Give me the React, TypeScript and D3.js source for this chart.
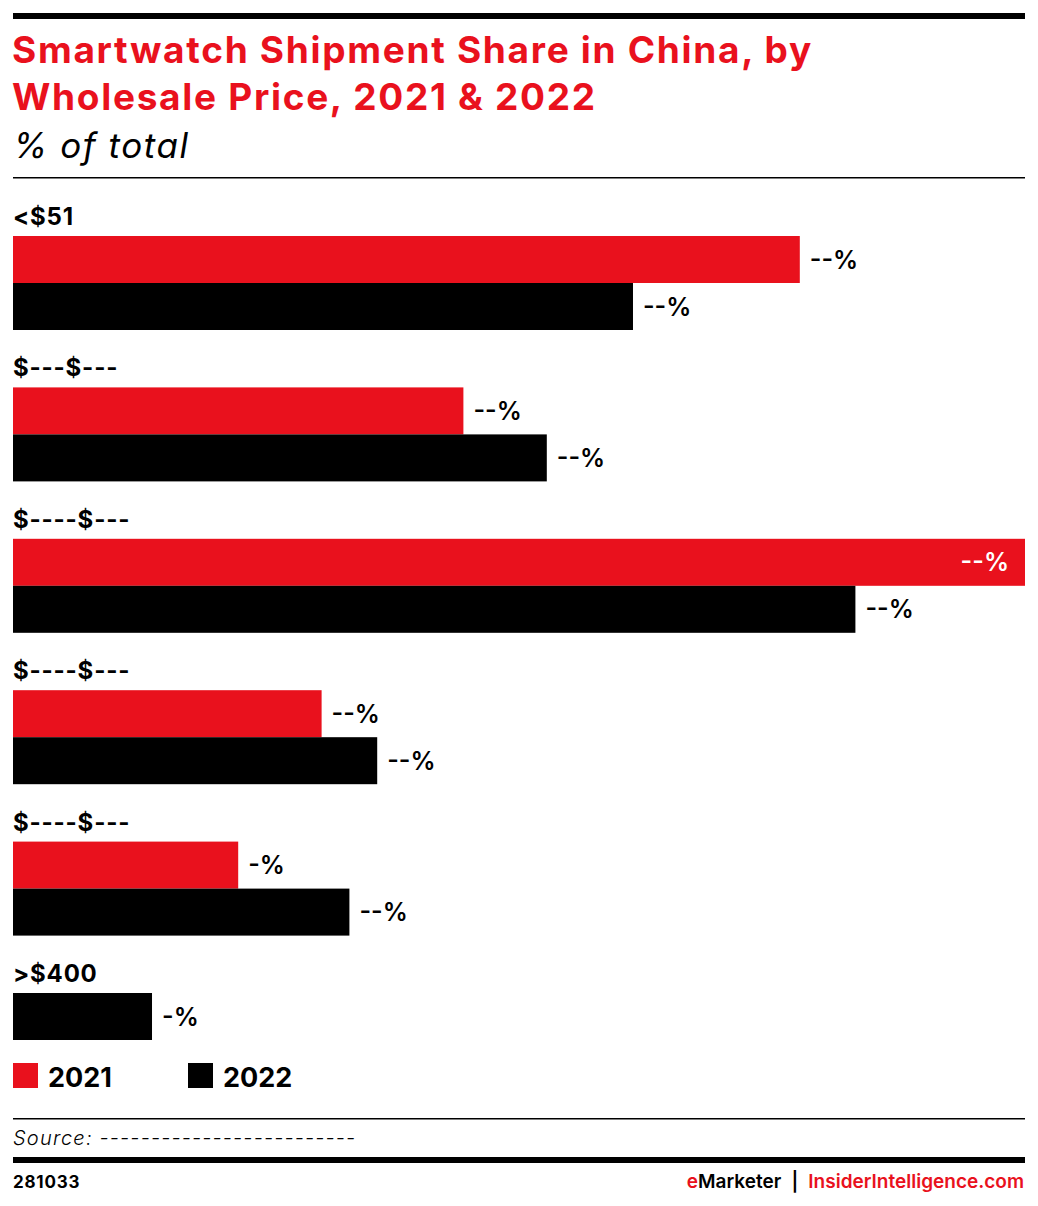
import React, { useEffect, useRef } from 'react';
import * as d3 from 'd3';

// price bands, top to bottom
const categories = ['<$51', '$---$---', '$----$---', '$----$---', '$----$---', '>$400'];
// shares (% of total); null = no bar
const values2021: (number | null)[] = [28.3, 16.2, 36.4, 11.1, 8.1, null];
const values2022: (number | null)[] = [22.3, 19.2, 30.3, 13.1, 12.1, 5.0];
// the chart prints placeholders instead of numbers
const labels2021 = ['--%', '--%', '--%', '--%', '-%', ''];
const labels2022 = ['--%', '--%', '--%', '--%', '--%', '-%'];
const years = ['2021', '2022'];

const RED = '#e9111d';
const FONT = "Inter, 'Noto Sans', sans-serif";

const App: React.FC = () => {
  const svgRef = useRef<SVGSVGElement>(null);

  useEffect(() => {
    document.body.style.margin = '0';
    if (!svgRef.current) return;

    const svg = d3.select(svgRef.current);
    svg.selectAll('*').remove();

    const W = 1038;
    const H = 1206;
    const left = 13;
    const right = 1025;
    svg.attr('width', W).attr('height', H).style('font-family', FONT);

    // header
    svg.append('rect').attr('x', left).attr('y', 13).attr('width', right - left).attr('height', 6).attr('fill', '#000');
    const title = svg.append('text').attr('fill', RED)
                     .attr('font-size', 37).attr('font-weight', 700)
                     .attr('letter-spacing', 1.7);
    title.append('tspan').attr('x', left - 1).attr('y', 63).text('Smartwatch Shipment Share in China, by');
    title.append('tspan').attr('x', left - 1).attr('y', 110).text('Wholesale Price, 2021 & 2022');
    svg.append('text')
       .attr('x', left).attr('y', 158)
       .attr('font-size', 35).attr('font-style', 'italic').attr('font-weight', 400)
       .attr('letter-spacing', 1.5)
       .text('% of total');
    svg.append('rect').attr('x', left).attr('y', 177).attr('width', right - left).attr('height', 1.5).attr('fill', '#000');

    // scales
    const x = d3.scaleLinear()
                .domain([0, d3.max([...values2021, ...values2022], d => d ?? 0) || 1])
                .range([left, right]);
    const y = d3.scaleBand()
                .domain(categories.map((_, i) => String(i)))
                .range([200, 200 + 151.4 * categories.length])
                .paddingInner(0);
    const barH = 47;

    categories.forEach((cat, i) => {
      const g = svg.append('g').attr('transform', `translate(0,${y(String(i)) || 0})`);
      g.append('text')
       .attr('x', left).attr('y', 25)
       .attr('font-size', 24).attr('font-weight', 700)
       .attr('letter-spacing', 0.8)
       .text(cat);

      const rows = [
        { v: values2021[i], label: labels2021[i], color: RED },
        { v: values2022[i], label: labels2022[i], color: '#000' },
      ].filter(r => r.v !== null);

      rows.forEach((r, j) => {
        const y0 = 36 + j * barH;
        const x1 = x(r.v as number);
        g.append('rect')
         .attr('x', left).attr('y', y0)
         .attr('width', x1 - left).attr('height', barH)
         .attr('fill', r.color);
        const inside = x1 + 70 > right;
        g.append('text')
         .attr('x', inside ? x1 - 16 : x1 + 10)
         .attr('y', y0 + barH / 2)
         .attr('dy', '0.36em')
         .attr('text-anchor', inside ? 'end' : 'start')
         .attr('font-size', 25).attr('font-weight', 600)
         .attr('fill', inside ? '#fff' : '#000')
         .text(r.label);
      });
    });

    // legend
    const legendX = [left, 188];
    years.forEach((yr, i) => {
      svg.append('rect').attr('x', legendX[i]).attr('y', 1063).attr('width', 25).attr('height', 25)
         .attr('fill', i === 0 ? RED : '#000');
      svg.append('text').attr('x', legendX[i] + 35).attr('y', 1087)
         .attr('font-size', 27).attr('font-weight', 700)
         .text(yr);
    });

    // footer
    svg.append('rect').attr('x', left).attr('y', 1118).attr('width', right - left).attr('height', 1.5).attr('fill', '#000');
    svg.append('text').attr('x', left).attr('y', 1145)
       .attr('font-size', 20).attr('font-style', 'italic').attr('font-weight', 300)
       .attr('letter-spacing', 1.2)
       .text('Source: -------------------------');
    svg.append('rect').attr('x', left).attr('y', 1157).attr('width', right - left).attr('height', 6).attr('fill', '#000');
    svg.append('text').attr('x', left).attr('y', 1188)
       .attr('font-size', 17).attr('font-weight', 700)
       .attr('letter-spacing', 0.8)
       .text('281033');
    const brand = svg.append('text').attr('x', right - 1).attr('y', 1188)
       .attr('text-anchor', 'end').attr('font-size', 19).attr('font-weight', 600);
    brand.append('tspan').attr('fill', RED).text('e');
    brand.append('tspan').attr('fill', '#000').text('Marketer');
    brand.append('tspan').attr('fill', '#000').attr('dx', 10).text('|');
    brand.append('tspan').attr('fill', RED).attr('dx', 10).text('InsiderIntelligence.com');
  }, []);

  return <svg ref={svgRef} style={{ display: 'block' }}></svg>;
};

export default App;
